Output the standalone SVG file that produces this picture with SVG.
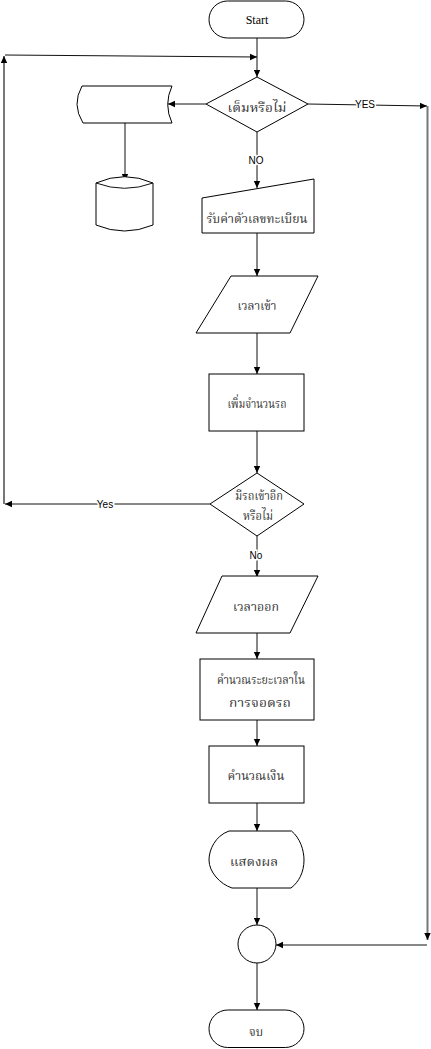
<svg xmlns="http://www.w3.org/2000/svg" width="431" height="1049" viewBox="0 0 431 1049">
<style>
.s{fill:#fff;stroke:#000;stroke-width:1}
.c{fill:none;stroke:#111;stroke-width:1}
.g{fill:none;stroke:#777;stroke-width:2}
.t{font-family:"Liberation Serif","Noto Serif Thai","Noto Sans Thai",serif;font-size:13px;fill:#333;text-anchor:middle;dominant-baseline:central}
.e{font-family:"Liberation Serif",serif;font-size:12px;fill:#000;text-anchor:middle;dominant-baseline:central}
.l{font-family:"Liberation Sans",Arial,sans-serif;font-size:10px;fill:#000;text-anchor:middle;dominant-baseline:central;stroke:#fff;stroke-width:3;paint-order:stroke}
</style>
<defs>
<marker id="a" markerWidth="8" markerHeight="8" refX="7" refY="4" orient="auto" markerUnits="userSpaceOnUse">
<path d="M0,0.8 L7,4 L0,7.2 Z" fill="#000"/>
</marker>
</defs>
<g id="connectors">
<path class="c" d="M257,38 V77" marker-end="url(#a)"/>
<path class="c" d="M5,55 L257,57" marker-end="url(#a)"/>
<path class="g" d="M4,504 V56" marker-end="url(#a)"/>
<path class="c" d="M210,504 H5" marker-end="url(#a)"/>
<path class="c" d="M206,104 H168" marker-end="url(#a)"/>
<path class="c" d="M125,123 V181" marker-end="url(#a)"/>
<path class="c" d="M308,104 L427,106" marker-end="url(#a)"/>
<path class="g" d="M427.5,106 V940" marker-end="url(#a)"/>
<path class="c" d="M427,945 H276" marker-end="url(#a)"/>
<path class="c" d="M257,132 V188" marker-end="url(#a)"/>
<path class="c" d="M257,233 V276" marker-end="url(#a)"/>
<path class="c" d="M257,333 V374" marker-end="url(#a)"/>
<path class="c" d="M257,431 V473" marker-end="url(#a)"/>
<path class="c" d="M257,536 V577" marker-end="url(#a)"/>
<path class="c" d="M257,633 V659" marker-end="url(#a)"/>
<path class="c" d="M257,720 V746" marker-end="url(#a)"/>
<path class="c" d="M257,803 V831" marker-end="url(#a)"/>
<path class="c" d="M257,888 V925" marker-end="url(#a)"/>
<path class="c" d="M257,963 V1010" marker-end="url(#a)"/>
<text class="l" x="365" y="104">YES</text>
<text class="l" x="256" y="160">NO</text>
<text class="l" x="105" y="504">Yes</text>
<text class="l" x="256" y="555">No</text>
</g>
<g id="start"><rect class="s" x="209" y="1" width="95" height="37" rx="18.5"/><text class="e" x="257" y="20">Start</text></g>
<g id="full"><polygon class="s" points="257,77 308,104 257,132 206,104"/><text class="t" x="257" y="107" textLength="59" lengthAdjust="spacingAndGlyphs">เต็มหรือไม่</text></g>
<g id="stored"><path class="s" d="M82,86 H172 Q163.4,104.5 172,123 H83 Q71.5,104.5 82,86 Z"/></g>
<g id="disk"><path class="s" d="M96,183 Q124.5,170.4 153,183 V225 Q124.5,237 96,225 Z"/><path class="c" d="M96,183 Q124.5,193.6 153,183"/></g>
<g id="plate"><polygon class="s" points="202,198 314,179 314,233 202,233"/><text class="t" x="257" y="218" textLength="101" lengthAdjust="spacingAndGlyphs">รับค่าตัวเลขทะเบียน</text></g>
<g id="timein"><polygon class="s" points="231,276 318,276 290,333 196,333"/><text class="t" x="257" y="305" textLength="39" lengthAdjust="spacingAndGlyphs">เวลาเข้า</text></g>
<g id="addcar"><rect class="s" x="209" y="374" width="95" height="57"/><text class="t" x="257" y="403" textLength="59" lengthAdjust="spacingAndGlyphs">เพิ่มจำนวนรถ</text></g>
<g id="more"><polygon class="s" points="257,473 304,504 257,536 210,504"/><text class="t" x="259" y="495" textLength="48" lengthAdjust="spacingAndGlyphs">มีรถเข้าอีก</text><text class="t" x="258" y="515" textLength="30" lengthAdjust="spacingAndGlyphs">หรือไม่</text></g>
<g id="timeout"><polygon class="s" points="222,576 318,576 290,633 196,633"/><text class="t" x="256" y="606" textLength="46" lengthAdjust="spacingAndGlyphs">เวลาออก</text></g>
<g id="duration"><rect class="s" x="200" y="659" width="114" height="61"/><text class="t" x="261" y="679" textLength="88" lengthAdjust="spacingAndGlyphs">คำนวณระยะเวลาใน</text><text class="t" x="260" y="702" textLength="62" lengthAdjust="spacingAndGlyphs">การจอดรถ</text></g>
<g id="money"><rect class="s" x="209" y="746" width="95" height="57"/><text class="t" x="256" y="775" textLength="57" lengthAdjust="spacingAndGlyphs">คำนวณเงิน</text></g>
<g id="display"><path class="s" d="M229,831 H291.5 C300,838 304,850 304,860 C304,872 299,882 291,888 H232 C220,884 209,872 209,860 C209,850 215,836 229,831 Z"/><text class="t" x="254" y="861" textLength="48" lengthAdjust="spacingAndGlyphs">แสดงผล</text></g>
<g id="connector"><circle class="s" cx="257" cy="944" r="19"/></g>
<g id="end"><rect class="s" x="209" y="1010" width="95" height="37.5" rx="18.75"/><text class="t" x="256" y="1031" textLength="14" lengthAdjust="spacingAndGlyphs">จบ</text></g>
</svg>
